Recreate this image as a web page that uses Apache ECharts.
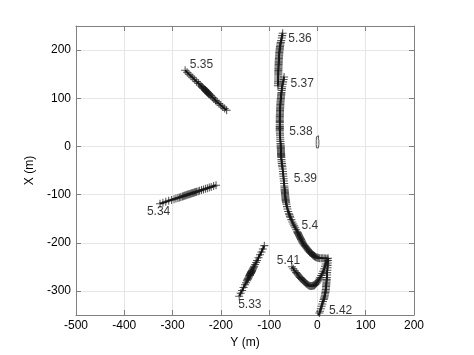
<!DOCTYPE html>
<html>
<head>
<meta charset="utf-8">
<script src="https://cdn.jsdelivr.net/npm/echarts@6/dist/echarts.min.js"></script>
<style>html,body{margin:0;padding:0;background:#fff}#c{width:474px;height:355px}</style>
</head>
<body>
<div id="c"></div>
<script>
// Tracks: [Y (m), X (m)]
var track533 = [[-162,-311],[-159,-305],[-156,-299],[-153,-293],[-150,-287],[-148,-283],[-146,-279],[-145,-277],[-144,-275],[-143,-273],[-142,-271],[-141,-269],[-140.5,-268],[-140,-267],[-139.5,-266],[-139,-265],[-138.5,-264],[-138,-263],[-137.5,-262],[-137,-261],[-136.5,-260],[-136,-259],[-135.5,-258],[-135,-257],[-134,-255],[-133,-253],[-132,-251],[-131,-249],[-129,-245],[-127,-241],[-125,-237],[-122,-231],[-119,-225],[-116,-219],[-113,-213],[-110,-206]];
var track534 = [[-326,-119],[-320,-117],[-314,-115],[-308,-113],[-302,-111],[-297,-109.5],[-293,-108],[-289,-107],[-286,-106],[-283,-105],[-280,-104],[-278,-103.3],[-276,-102.6],[-274,-102],[-272,-101.3],[-270,-100.6],[-268,-100],[-266,-99.3],[-264,-98.6],[-262,-98],[-260,-97.3],[-258,-96.6],[-256,-96],[-254,-95.3],[-252,-94.6],[-250,-94],[-247,-93],[-244,-92],[-240,-90.7],[-236,-89.4],[-232,-88],[-228,-86.7],[-224,-85.4],[-220,-84],[-215,-82.3],[-210,-80.5]];
var track535 = [[-274,158],[-270,154],[-266,150],[-262,146],[-258,142.5],[-254,138.5],[-250,134.5],[-246,130.5],[-243,127.5],[-240,124.5],[-238,122.5],[-236,120.5],[-234,118.5],[-233,117.5],[-232,116.5],[-231,115.5],[-230,114.5],[-229,113.5],[-228,112.5],[-227,111.5],[-226,110.5],[-225,109.5],[-224,108.5],[-222,106.5],[-220,104.5],[-217,101.5],[-214,98.5],[-211,95.5],[-208,92.5],[-204,89],[-200,85.5],[-196,82],[-192,78.5],[-188,75]];
var track536 = [[-72,235],[-73,230],[-74,225],[-75,220],[-76,216],[-76.5,213],[-77,210],[-77.5,207.5],[-77.8,205],[-78,202.5],[-78.3,200],[-78.6,197.5],[-79,195],[-79,192.5],[-79.2,190],[-79.4,187.5],[-79.6,185],[-79.8,182.5],[-80,180],[-80,177.5],[-80.2,175],[-80.3,172.5],[-80.4,170],[-80.5,167.5],[-80.6,165],[-80.7,162.5],[-80.8,160],[-80.9,157.5],[-81,155],[-81,152.5],[-81,150],[-81.1,146],[-81.2,142],[-81.4,138],[-81.5,134],[-81.7,130],[-82,126]];
var track537 = [[-69,144],[-70,139],[-71,134],[-72,129],[-73,124],[-73.5,120],[-74,116],[-74.5,112],[-74.8,109.5],[-75,107],[-75.3,104.5],[-75.5,102],[-75.8,99.5],[-76,97],[-76.2,94.5],[-76.4,92],[-76.6,89.5],[-76.8,87],[-77,84.5],[-77,82],[-77.2,79.5],[-77.3,77],[-77.4,74.5],[-77.5,72],[-77.6,69.5],[-77.7,67],[-77.8,64.5],[-77.9,62],[-78,59.5],[-78,57],[-78,54.5],[-78,52],[-78,49.5],[-78,46],[-78,42],[-78,38],[-78,34]];
var track538 = [[-78,42],[-78,38],[-78,34],[-78,30],[-77.5,26],[-77.5,22],[-77,18],[-77,14],[-76.5,10],[-76.5,6],[-76.2,3],[-76,1],[-76,-1],[-75.9,-3],[-75.8,-5],[-75.7,-7],[-75.6,-9],[-75.5,-11],[-75.4,-13],[-75.3,-15],[-75.2,-17],[-75.1,-19],[-75,-21],[-74.8,-23],[-74.5,-27],[-74.2,-31],[-74,-35],[-73.5,-40]];
var track539 = [[-73,-36],[-72.5,-42],[-72,-47],[-71.5,-52],[-71,-57],[-70.5,-62],[-70,-67],[-69.5,-72],[-69,-77],[-68.5,-82],[-68.2,-86],[-68,-89],[-67.8,-91],[-67.6,-93],[-67.4,-95],[-67.2,-97],[-67,-99],[-66.8,-101],[-66.6,-103],[-66.4,-105],[-66.2,-107],[-66,-109],[-65.8,-111],[-65.5,-113],[-65.2,-115],[-64.8,-117],[-64.2,-120],[-63,-125],[-62,-130],[-60.5,-135],[-59,-140],[-57,-145]];
var track540 = [[-58,-142],[-56,-147],[-54,-152],[-52,-157],[-50,-161],[-48,-165],[-46,-169],[-44,-173],[-42,-177],[-41,-179],[-40,-181],[-39,-183],[-38,-185],[-37,-187],[-36,-189],[-35,-191],[-34,-193],[-33,-195],[-32,-197],[-31,-199],[-30,-201],[-28.5,-203],[-27,-205],[-25.5,-207],[-24,-209],[-22.5,-211],[-21,-213],[-19.5,-215],[-18,-217],[-16.5,-218.5],[-15,-220],[-13.5,-221.5],[-12,-223],[-10.5,-224.5],[-9,-226],[-7.5,-227],[-6,-228],[-4.5,-229],[-3,-230],[-1,-230.5],[1,-231],[3,-231.5],[5,-232],[8,-232],[11,-232],[14,-232],[17,-232.5],[20,-233]];
var track541 = [[-53,-250],[-50,-254],[-47,-258],[-44,-262],[-42,-264.5],[-40,-267],[-38,-269.5],[-36,-272],[-34,-274],[-32,-276],[-30,-278],[-28,-280],[-26,-282],[-24,-284],[-22,-285.5],[-20,-287],[-18,-288.5],[-16,-289.5],[-14,-290],[-12,-290],[-10,-289.5],[-8,-289],[-6,-288],[-4,-286],[-2,-284],[0,-281.5],[2,-279],[4,-275.5],[6,-272],[8,-268],[10,-264],[12,-259],[14,-254],[15.5,-249],[17,-244],[19,-238]];
var track542 = [[22,-232],[22,-237],[21.5,-242],[21,-247],[21,-252],[20.5,-257],[20,-262],[20,-267],[19.5,-272],[19.2,-276],[19,-279],[18.8,-282],[18.5,-285],[18.2,-288],[18,-291],[17.7,-294],[17.4,-297],[17,-300],[16.5,-303],[16,-306],[15.4,-309],[14.8,-312],[14,-315],[13,-318],[11.5,-322],[10,-327],[8.5,-332],[7,-337],[5.5,-342],[4,-346],[2,-351]];
var ownShip = [[-2,-3],[-2.5,4],[-2.5,12],[-1.5,16],[-2,20],[0,24],[2.5,22],[2,17],[3,12],[3,4],[2,-3],[0,-4],[-2,-3]];
var trackNames = ['5.33','5.34','5.35','5.36','5.37','5.38','5.39','5.4','5.41','5.42'];
var labelPos = [[-140,-328],[-329,-136],[-240,170],[-36,223],[-31.5,129.5],[-34,29.7],[-25,-68],[-15.5,-165],[-60,-237],[48,-341]];

var tracks = [track533,track534,track535,track536,track537,track538,track539,track540,track541,track542];
var FONT = '"Liberation Sans", Arial, sans-serif';
var plus = 'path://M-0.13,-1H0.13V1H-0.13Z M-1,-0.13H1V0.13H-1Z';
var series = tracks.map(function(t, i){
  return {type:'line', name: trackNames[i], data: t, symbol: plus, symbolSize: 8,
    showAllSymbol: true, clip: true, animation:false,
    lineStyle:{color:'#0a0a0a', width:1.8}, itemStyle:{color:'#1a1a1a', opacity:0.75}};
});
series.push({type:'line', data: ownShip, symbol:'none', lineStyle:{color:'#555', width:1}, animation:false});
series.push({type:'scatter', symbolSize:0, animation:false,
  data: trackNames.map(function(n,i){return {name:n, value:labelPos[i]};}),
  label:{show:true, position:'inside', formatter:'{b}', color:'#000', fontSize:12, fontFamily:FONT}});

var axisLine = {show:true, onZero:false, lineStyle:{color:'#808080', width:1}};
var tick = {show:true, inside:true, length:5, lineStyle:{color:'#808080'}};
var split = {show:true, lineStyle:{color:'#e6e6e6', width:1}};
var option = {
  backgroundColor:'#fff',
  grid:{left:76, right:60, top:26, bottom:40, containLabel:false},
  xAxis:[
    {type:'value', min:-500, max:200, interval:100, name:'Y (m)', nameLocation:'middle', nameGap:20,
     nameTextStyle:{color:'#000', fontSize:12, fontFamily:FONT},
     axisLine:axisLine, axisTick:tick, splitLine:split,
     axisLabel:{color:'#000', fontSize:12, fontFamily:FONT, margin:5}},
    {type:'value', position:'top', min:-500, max:200, interval:100,
     axisLine:axisLine, axisTick:tick, splitLine:{show:false}, axisLabel:{show:false}}
  ],
  yAxis:[
    {type:'value', min:-350, max:250, splitNumber:6, name:'X (m)', nameLocation:'middle', nameGap:31,
     nameTextStyle:{color:'#000', fontSize:12, fontFamily:FONT},
     axisLine:axisLine, axisTick:tick, splitLine:split,
     axisLabel:{color:'#000', fontSize:12, fontFamily:FONT, margin:5, showMinLabel:false, showMaxLabel:false}},
    {type:'value', position:'right', min:-350, max:250, splitNumber:6,
     axisLine:axisLine, axisTick:tick, splitLine:{show:false}, axisLabel:{show:false}}
  ],
  series: series
};
var chart = echarts.init(document.getElementById('c'), null, {renderer:'canvas'});
chart.setOption(option);
</script>
</body>
</html>
